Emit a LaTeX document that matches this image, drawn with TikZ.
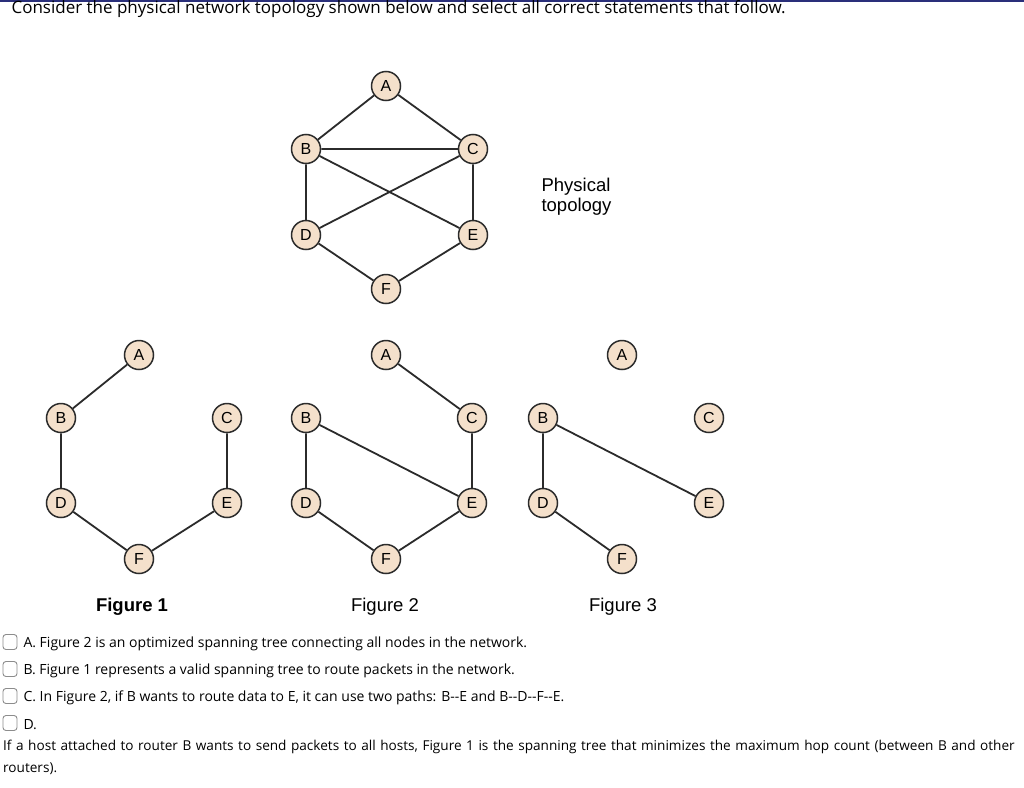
\documentclass[tikz,border=0pt]{standalone}
\usepackage{fontspec}
\setmainfont{Open Sans}
\newfontfamily\arialfont{Liberation Sans}
\definecolor{nodefill}{HTML}{F4E0CB}
\definecolor{nodeline}{HTML}{2B2B2B}
\definecolor{topbar}{HTML}{2A2F7A}
\definecolor{boxgray}{HTML}{8C8C8C}
\tikzset{
  router/.style={circle, draw=nodeline, line width=1.5pt, fill=nodefill,
    minimum size=29pt, inner sep=0pt, font=\arialfont\fontsize{16}{16}\selectfont},
  link/.style={draw=nodeline, line width=1.8pt},
  figlabel/.style={font=\arialfont\fontsize{18.5}{20}\selectfont},
  answer/.style={anchor=west, font=\fontsize{14}{14}\selectfont},
  tickbox/.style={draw=boxgray, rounded corners=3pt, line width=0.9pt,
    minimum width=14pt, minimum height=15pt, inner sep=0pt}
}
\begin{document}
\begin{tikzpicture}[x=1pt, y=-1pt]
\useasboundingbox (0,0) rectangle (1024,787);
\fill[white] (0,0) rectangle (1024,787);
\draw[topbar, line width=1.5pt] (0,0.8) -- (1024,0.8);

\node[anchor=west, font=\fontsize{17}{17}\selectfont] (title) at (8,9)
  {Consider the physical network topology shown below and select all correct statements that follow.};

% physical topology
\begin{scope}[shift={(306,86)}, name prefix=t-]
\foreach \n/\x/\y in {A/80/0, B/0/63, C/167/63, D/0/149, E/167/149, F/80/203}
  \node[router] (\n) at (\x,\y) {\n};
\draw[link] (A) -- (B) (A) -- (C) (B) -- (C) (B) -- (D) (B) -- (E)
  (C) -- (D) (C) -- (E) (D) -- (F) (E) -- (F);
\end{scope}
\node[figlabel, align=left, anchor=west] (phys) at (538,197) {Physical\\topology};

% figure 1
\begin{scope}[shift={(61,355)}, name prefix=f1-]
\foreach \n/\x/\y in {A/78/0, B/0/63, C/166/63, D/0/148, E/166/148, F/78/204}
  \node[router] (\n) at (\x,\y) {\n};
\draw[link] (A) -- (B) (B) -- (D) (D) -- (F) (F) -- (E) (E) -- (C);
\end{scope}

% figure 2
\begin{scope}[shift={(306,355)}, name prefix=f2-]
\foreach \n/\x/\y in {A/80/0, B/0/63, C/166/63, D/0/148, E/166/148, F/80/204}
  \node[router] (\n) at (\x,\y) {\n};
\draw[link] (A) -- (C) (C) -- (E) (B) -- (D) (B) -- (E) (D) -- (F) (F) -- (E);
\end{scope}

% figure 3
\begin{scope}[shift={(543,355)}, name prefix=f3-]
\foreach \n/\x/\y in {A/79/0, B/0/63, C/166/63, D/0/148, E/166/148, F/79/204}
  \node[router] (\n) at (\x,\y) {\n};
\draw[link] (B) -- (D) (B) -- (E) (D) -- (F);
\end{scope}

\node[figlabel, font=\arialfont\bfseries\fontsize{18.5}{20}\selectfont] (fig1) at (132,607) {Figure 1};
\node[figlabel] (fig2) at (385,607) {Figure 2};
\node[figlabel] (fig3) at (623,607) {Figure 3};

% statements
\foreach \k/\yy/\txt in {a/642/{A. Figure 2 is an optimized spanning tree connecting all nodes in the network.},
    b/669/{B. Figure 1 represents a valid spanning tree to route packets in the network.},
    c/696/{C. In Figure 2, if B wants to route data to E, it can use two paths: B{-}{-}E and B{-}{-}D{-}{-}F{-}{-}E.},
    d/723/{D.}} {
  \node[tickbox] (box-\k) at (10,\yy) {};
  \node[answer] (opt-\k) at (20,\yy+1.5) {\txt};
}
\node[text width=1022pt, align=left, anchor=north west, inner sep=0pt,
  font=\fontsize{13.6}{22}\selectfont] (optd) at (3,739.5)
  {If a host attached to router B wants to send packets to all hosts, Figure 1 is the spanning tree that minimizes the maximum hop count (between B and other routers).};
\end{tikzpicture}
\end{document}
